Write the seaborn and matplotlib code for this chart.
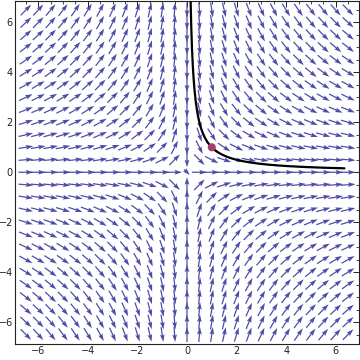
import numpy as np
import pandas as pd
import matplotlib
matplotlib.use("Agg")
import matplotlib.pyplot as plt
import seaborn as sns

# grid of arrow positions
grid_x = [-6.5, -6.0, -5.5, -5.0, -4.5, -4.0, -3.5, -3.0, -2.5, -2.0, -1.5, -1.0, -0.5,
          0.0, 0.5, 1.0, 1.5, 2.0, 2.5, 3.0, 3.5, 4.0, 4.5, 5.0, 5.5, 6.0, 6.5]
grid_y = [-6.5, -6.0, -5.5, -5.0, -4.5, -4.0, -3.5, -3.0, -2.5, -2.0, -1.5, -1.0, -0.5,
          0.0, 0.5, 1.0, 1.5, 2.0, 2.5, 3.0, 3.5, 4.0, 4.5, 5.0, 5.5, 6.0, 6.5]
tick_values = [-6, -4, -2, 0, 2, 4, 6]
tick_labels = ["\u22126", "\u22124", "\u22122", "0", "2", "4", "6"]
point_x = [1.0]
point_y = [1.0]
curve_x_start, curve_x_end = 0.14, 6.35

sns.set_style("white")
plt.rcParams["font.family"] = ["DejaVu Sans"]

fig = plt.figure(figsize=(3.6, 3.6), dpi=100)
ax = fig.add_axes([15/360, 16/360, 344/360, 343.5/360])

X, Y = np.meshgrid(np.array(grid_x), np.array(grid_y))
U = X**2
V = -X*Y
# on x = 0 column the field direction is (0, -y)
zero_col = (X == 0)
U = np.where(zero_col, 0.0, U)
V = np.where(zero_col, -Y, V)
origin = (X == 0) & (Y == 0)
U = np.where(origin, 1.0, U)
V = np.where(origin, -1.0, V)
M = np.hypot(U, V)
L = np.where(origin, 0.32, 0.6)
Un = U / M * L
Vn = V / M * L

ax.quiver(X, Y, Un, Vn, angles="xy", scale_units="xy", scale=1, pivot="mid",
          units="xy", width=0.05, headwidth=3.8, headlength=6.0, headaxislength=5.2,
          color="#3a3a9e", alpha=0.9, zorder=2)

cx = np.linspace(curve_x_start, curve_x_end, 400)
curve = pd.DataFrame({"x": cx, "y": 1.0 / cx})
sns.lineplot(data=curve, x="x", y="y", ax=ax, color="black", linewidth=1.6,
             sort=False, zorder=3)
sns.scatterplot(x=point_x, y=point_y, ax=ax, color="#a63d6e", s=34,
                edgecolor="none", zorder=4)

ax.set_xlim(-6.94, 6.94)
ax.set_ylim(-6.88, 6.88)
ax.set_xlabel("")
ax.set_ylabel("")
ax.set_xticks(tick_values)
ax.set_xticklabels(tick_labels)
ax.set_yticks(tick_values)
ax.set_yticklabels(tick_labels)
minor = np.arange(-6.5, 6.51, 0.5)
ax.set_xticks(minor, minor=True)
ax.set_yticks(minor, minor=True)
ax.tick_params(which="major", direction="in", length=4.5, width=0.7,
               top=True, right=True, labelsize=7, pad=1.5, colors="#222222")
ax.tick_params(which="minor", direction="in", length=2.3, width=0.6,
               top=True, right=True)
for s in ax.spines.values():
    s.set_color("#222222")
    s.set_linewidth(0.8)

fig.savefig("out.png", dpi=100)
